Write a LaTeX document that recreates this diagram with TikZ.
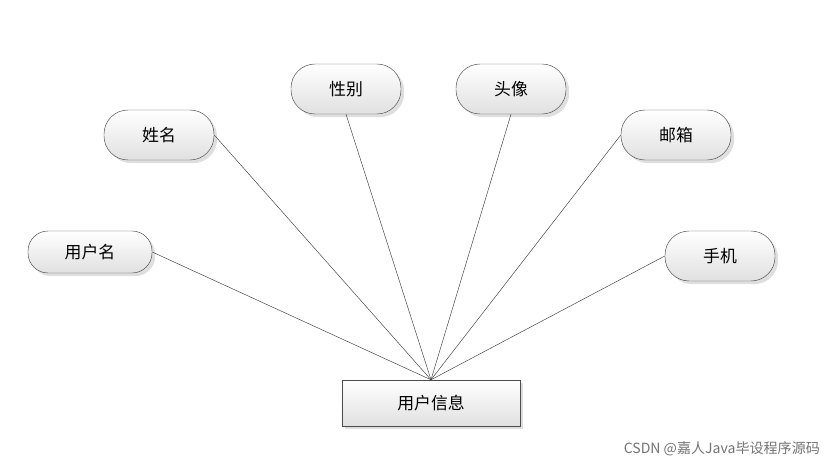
\documentclass[tikz,border=0pt]{standalone}
\usepackage{fontspec}
\setmainfont{Noto Sans CJK SC}
\usetikzlibrary{shadows}

\tikzset{
  attr/.style={draw=black!70, rounded corners=7.2mm, minimum width=3.3cm, minimum height=1.5cm,
    top color=white, bottom color=black!12, drop shadow={opacity=0.25}, font=\Large},
  entity/.style={draw=black!70, minimum width=5.34cm, minimum height=1.38cm,
    top color=white, bottom color=black!12, drop shadow={opacity=0.25}, font=\Large},
  link/.style={black!75, thin}
}

\begin{document}
\begin{tikzpicture}[x=0.03cm, y=-0.03cm]
  \useasboundingbox (0,0) rectangle (835,470);
  \node[attr, minimum width=3.72cm, minimum height=1.26cm, rounded corners=6mm] (uname) at (90,252) {用户名};
  \node[attr] (name) at (159,135) {姓名};
  \node[attr] (sex) at (346,89) {性别};
  \node[attr] (avatar) at (511,89) {头像};
  \node[attr] (mail) at (676,135) {邮箱};
  \node[attr] (phone) at (720,256) {手机};
  \node[entity] (user) at (431,403) {用户信息};

  \draw[link] (uname.east) -- (user.north);
  \draw[link] (name.east) -- (user.north);
  \draw[link] (sex.south) -- (user.north);
  \draw[link] (avatar.south) -- (user.north);
  \draw[link] (mail.west) -- (user.north);
  \draw[link] (phone.west) -- (user.north);

  \node[text=black!55, anchor=east, font=\large] (mark) at (824,449) {CSDN @嘉人Java毕设程序源码};
\end{tikzpicture}
\end{document}
